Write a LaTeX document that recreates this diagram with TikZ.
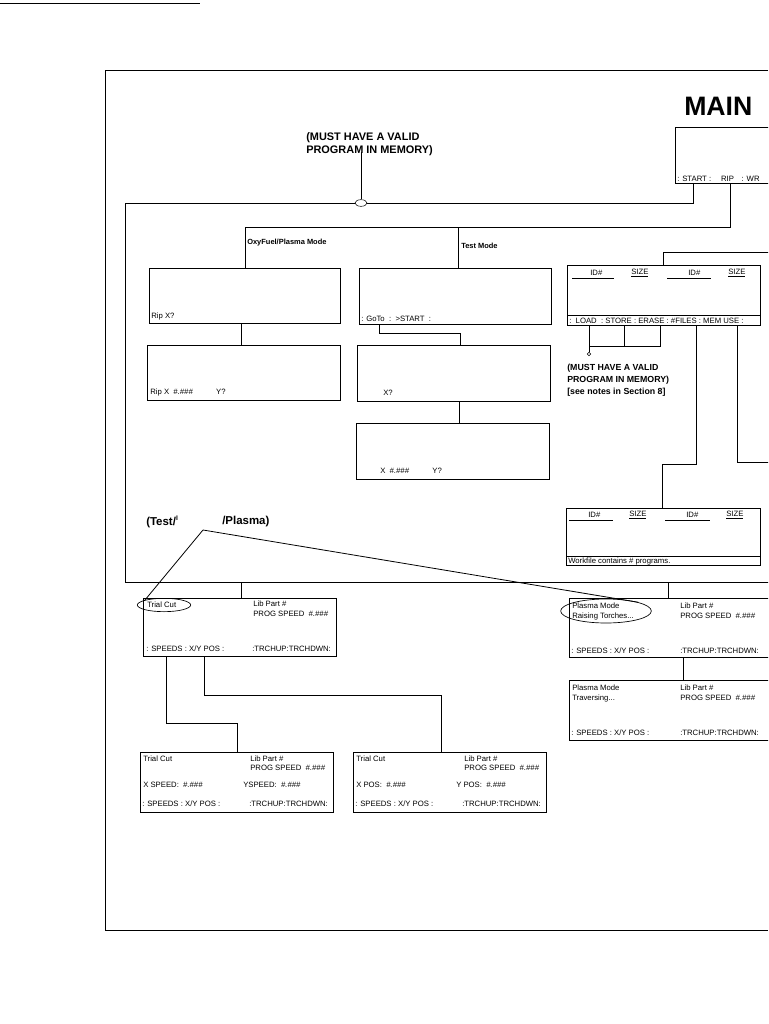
\documentclass[tikz,border=0pt]{standalone}
\usepackage{fontspec}
\setmainfont{Liberation Sans}
\usetikzlibrary{fit,shapes.geometric}
\begin{document}
\begin{tikzpicture}[x=0.75pt,y=-0.75pt,
  box/.style={draw,inner sep=0pt,line width=0.6pt},
  ln/.style={line width=0.6pt},
  sm/.style={anchor=west,inner sep=0pt,font=\fontsize{5.8}{6.5}\selectfont},
  smb/.style={anchor=west,inner sep=0pt,font=\fontsize{5.6}{6.5}\selectfont\bfseries},
  big/.style={anchor=west,inner sep=0pt,font=\fontsize{8.2}{9.6}\selectfont\bfseries,align=left},
  oval/.style={draw,ellipse,inner sep=0pt,line width=0.5pt}]
\useasboundingbox (0,0) rectangle (768,1024);
\fill[white] (0,0) rectangle (768,1024);
\draw[ln] (0,3) -- (200,3);
\begin{scope}
\clip (0,0) rectangle (768,1024);
% frame
\draw[ln] (768,70) -- (105,70) -- (105,930) -- (768,930);
\node[anchor=west,inner sep=0pt,font=\fontsize{20}{21}\selectfont\bfseries] (title) at (684,106) {MAIN};
% main box
\node[box,fit={(675,127) (790,183)}] (main) {};
\node[sm] (mainrow) at (677,180) {: START :\quad\ \underline{RIP}\quad : WR};
% START loop
\draw[ln] (693,183) -- (693,203) -- (365,203);
\draw[ln] (357,203) -- (125,203) -- (125,582) -- (790,582);
\node[draw,ellipse,minimum width=9pt,minimum height=5pt,inner sep=0pt,fill=white] (valid) at (361,203) {};
\draw[ln] (361,152) -- (valid.north);
\node[big] (must1) at (306,144) {(MUST HAVE A VALID\\PROGRAM IN MEMORY)};
% RIP branch
\draw[ln] (730,183) -- (730,227) -- (245,227) -- (245,268);
\draw[ln] (458,227) -- (458,268);
\node[smb] (oxy) at (247,243) {OxyFuel/Plasma Mode};
\node[smb] (test) at (461,246) {Test Mode};
% left column
\node[box,fit={(149,268) (340,323)}] (A) {};
\node[sm] at (151,316) {Rip X?};
\node[box,fit={(147,345) (340,400)}] (B) {};
\node[sm] at (150,392) {Rip X\ \ \textit{\#.\#\#\#}\qquad\quad Y?};
\draw[ln] (241,323) -- (241,345);
% test column
\node[box,fit={(359,268) (551,324)}] (C) {};
\node[sm] at (361,319) {: GoTo\ \ :\ \ >START\ \ :};
\node[box,fit={(357,345) (550,401)}] (D) {};
\node[sm] at (383,393) {X?};
\node[box,fit={(356,423) (549,479)}] (E) {};
\node[sm] at (380,471) {X\ \ \textit{\#.\#\#\#}\qquad\quad Y?};
\draw[ln] (379,324) -- (379,333) -- (460,333) -- (460,345);
\draw[ln] (459,401) -- (459,423);
% file box
\draw[ln] (663,265) -- (663,252) -- (790,252);
\node[box,fit={(567,265) (760,325)}] (F) {};
\draw[ln] (567,315) -- (760,315);
\node[sm] at (590,273) {ID\#};
\node[sm] at (631,273) {\underline{SIZE}};
\node[sm] at (688,273) {ID\#};
\node[sm] at (728,273) {\underline{SIZE}};
\draw[line width=0.4pt] (572,278) -- (614,278) (667,278) -- (711,278);
\node[sm] at (569,321) {:\ \ LOAD\ \ : STORE : ERASE\ : \#FILES\ : MEM USE :};
\draw[ln] (589,325) -- (589,346) -- (660,346) -- (660,325);
\draw[ln] (624,325) -- (624,346);
\draw[ln] (589,346) -- (589,352);
\node[draw,circle,minimum size=2.5pt,inner sep=0pt] (lc) at (589,354) {};
\node[big,font=\fontsize{6.6}{9}\selectfont\bfseries] (must2) at (567,380) {(MUST HAVE A VALID\\PROGRAM IN MEMORY)\\{}[see notes in Section 8]};
\draw[ln] (696,325) -- (696,464) -- (662,464) -- (662,508);
\draw[ln] (737,325) -- (737,462) -- (790,462);
\node[box,fit={(566,508) (760,565)}] (G) {};
\draw[ln] (566,556) -- (760,556);
\node[sm] at (588,515) {ID\#};
\node[sm] at (629,515) {\underline{SIZE}};
\node[sm] at (686,515) {ID\#};
\node[sm] at (726,515) {\underline{SIZE}};
\draw[line width=0.4pt] (569,520) -- (613,520) (665,520) -- (710,520);
\node[sm] at (568,561) {Workfile contains \# programs.};
% Test/Plasma label
\node[big,font=\fontsize{8.6}{10}\selectfont\bfseries] (tp1) at (146,522) {(Test/\textsuperscript{\tiny I}};
\node[big,font=\fontsize{8.6}{10}\selectfont\bfseries] (tp2) at (222,522) {/Plasma)};
\coordinate (tpp) at (203,530);
% run boxes
\draw[ln] (241,582) -- (241,598);
\draw[ln] (668,582) -- (668,598);
\node[box,fit={(143,598) (336,656)}] (H) {};
\node[sm] (tc) at (147,605) {Trial Cut};
\node[oval,minimum width=40pt,minimum height=10pt] (tco) at (164,605) {};
\node[sm] at (253,604) {Lib Part \#};
\node[sm] at (253,614) {PROG SPEED\ \ \textit{\#.\#\#\#}};
\node[sm] at (146,649) {: SPEEDS : X/Y POS :};
\node[sm] at (252,649) {:TRCHUP:TRCHDWN:};
\node[box,fit={(569,598) (790,657)}] (K) {};
\node[sm] at (572,606) {Plasma Mode};
\node[sm] at (572,616) {Raising Torches...};
\node[oval,minimum width=68pt,minimum height=18pt] (pmo) at (606,611) {};
\node[sm] at (680,606) {Lib Part \#};
\node[sm] at (680,616) {PROG SPEED\ \ \textit{\#.\#\#\#}};
\node[sm] at (571,651) {: SPEEDS : X/Y POS :};
\node[sm] at (680,651) {:TRCHUP:TRCHDWN:};
\draw[ln] (tpp) -- (tco.north west);
\draw[ln] (tpp) -- (pmo.north east);
\draw[ln] (683,657) -- (683,680);
\node[box,fit={(569,680) (790,740)}] (L) {};
\node[sm] at (572,688) {Plasma Mode};
\node[sm] at (572,698) {Traversing...};
\node[sm] at (680,688) {Lib Part \#};
\node[sm] at (680,698) {PROG SPEED\ \ \textit{\#.\#\#\#}};
\node[sm] at (571,733) {: SPEEDS : X/Y POS :};
\node[sm] at (680,733) {:TRCHUP:TRCHDWN:};
% bottom boxes
\draw[ln] (166,656) -- (166,723) -- (237,723) -- (237,752);
\draw[ln] (204,656) -- (204,695) -- (441,695) -- (441,752);
\node[box,fit={(140,752) (333,812)}] (I) {};
\node[sm] at (143,759) {Trial Cut};
\node[sm] at (250,759) {Lib Part \#};
\node[sm] at (250,768) {PROG SPEED\ \ \textit{\#.\#\#\#}};
\node[sm] at (143,785) {X SPEED:\ \ \textit{\#.\#\#\#}};
\node[sm] at (243,785) {YSPEED:\ \ \textit{\#.\#\#\#}};
\node[sm] at (142,804) {: SPEEDS : X/Y POS :};
\node[sm] at (249,804) {:TRCHUP:TRCHDWN:};
\node[box,fit={(353,752) (546,812)}] (J) {};
\node[sm] at (356,759) {Trial Cut};
\node[sm] at (464,759) {Lib Part \#};
\node[sm] at (464,768) {PROG SPEED\ \ \textit{\#.\#\#\#}};
\node[sm] at (356,785) {X POS:\ \ \textit{\#.\#\#\#}};
\node[sm] at (456,785) {Y POS:\ \ \textit{\#.\#\#\#}};
\node[sm] at (355,804) {: SPEEDS : X/Y POS :};
\node[sm] at (462,804) {:TRCHUP:TRCHDWN:};
\end{scope}
\end{tikzpicture}
\end{document}
